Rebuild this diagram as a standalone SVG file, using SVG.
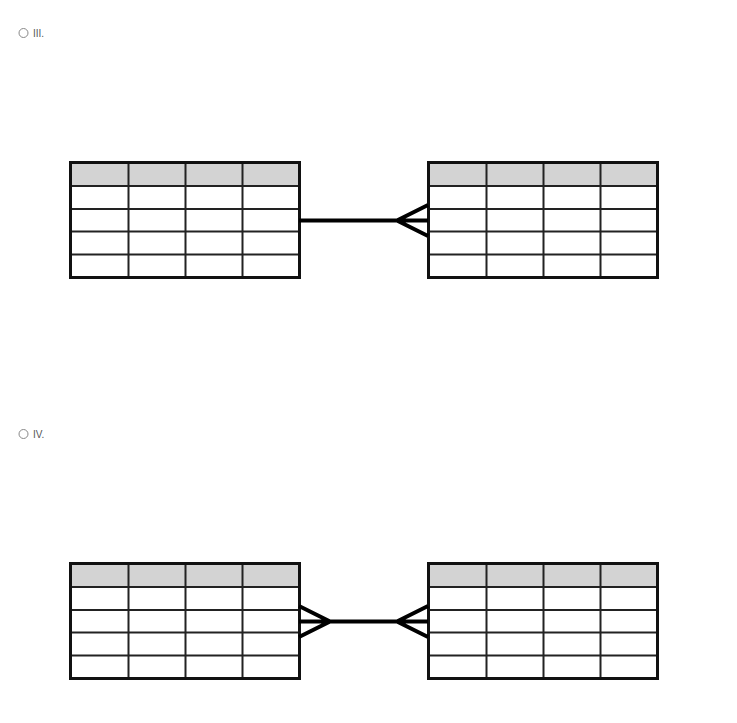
<svg xmlns="http://www.w3.org/2000/svg" width="737" height="723" viewBox="0 0 737 723">
<style>
.hdr{fill:#d3d3d3;stroke:none}
.body{fill:#fff;stroke:none}
.grid{stroke:#222;stroke-width:2;fill:none}
.outer{stroke:#111;stroke-width:3;fill:none}
.conn{stroke:#000;stroke-width:4;fill:none;stroke-linejoin:miter}
.radio{fill:#fff;stroke:#888;stroke-width:1}
.lbl{font-family:"Liberation Sans",Arial,sans-serif;font-size:10px;fill:#555}
</style>
<defs>
<g id="tbl">
<rect class="body" x="0" y="0" width="229" height="115"/>
<rect class="hdr" x="0" y="0" width="229" height="23.5"/>
<path class="grid" d="M0 23.5H229M0 46.5H229M0 69H229M0 92H229M58 0V115M115 0V115M172 0V115"/>
<rect class="outer" x="0" y="0" width="229" height="115"/>
</g>
</defs>
<rect width="737" height="723" fill="#fff"/>
<g id="opt3">
<circle class="radio" cx="23.5" cy="33" r="4.5"/>
<text class="lbl" x="33" y="37">III.</text>
</g>
<g id="opt4">
<circle class="radio" cx="23.5" cy="434" r="4.5"/>
<text class="lbl" x="33" y="438">IV.</text>
</g>
<g id="t3a"><use href="#tbl" x="70.5" y="162.5"/></g>
<g id="t3b"><use href="#tbl" x="428.5" y="162.5"/></g>
<g id="t4a"><use href="#tbl" x="70.5" y="563.5"/></g>
<g id="t4b"><use href="#tbl" x="428.5" y="563.5"/></g>
<g id="connectors">
<path class="conn" d="M299 220.5H428M428 205L397 220.5L428 236"/>
<path class="conn" d="M299 621.5H428M428 606L397 621.5L428 637M299 606L330 621.5L299 637"/>
</g>
</svg>
